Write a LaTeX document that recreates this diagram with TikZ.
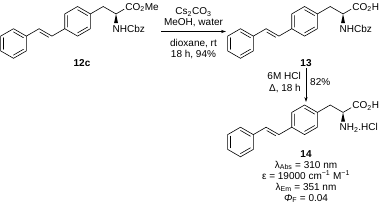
\documentclass[tikz,border=0pt]{standalone}
\usepackage{fontspec}
\setmainfont{Liberation Sans}
\usetikzlibrary{arrows.meta}
\newcommand\chsub[1]{\textsubscript{#1}}
\tikzset{
 bond/.style={line width=0.6pt, line cap=round, line join=round},
 lbl/.style={font=\fontsize{10}{12}\selectfont, inner sep=0pt},
 lblb/.style={font=\fontsize{10}{12}\selectfont\bfseries, inner sep=0pt},
 arr/.style={line width=0.6pt, -{Stealth[length=5pt, width=3.2pt]}},
 stilb/.pic={
  \coordinate (-p1) at (0,-14.8);
  \coordinate (-p2) at (12.817,-7.4);
  \coordinate (-p3) at (12.817,7.4);
  \coordinate (-p4) at (0,14.8);
  \coordinate (-p5) at (-12.817,7.4);
  \coordinate (-p6) at (-12.817,-7.4);
  \draw[bond] (-p1) -- (-p2) -- (-p3) -- (-p4) -- (-p5) -- (-p6) -- cycle;
  \draw[bond] (0,-11.544) -- (9.997,-5.772) (9.997,5.772) -- (0,11.544) (-9.997,5.772) -- (-9.997,-5.772);
  \coordinate (-A) at (25.634,-14.8);
  \coordinate (-B) at (38.451,-7.4);
  \coordinate (-q1) at (64.085,-37);
  \coordinate (-q2) at (76.902,-29.6);
  \coordinate (-q3) at (76.902,-14.8);
  \coordinate (-q4) at (64.085,-7.4);
  \coordinate (-q5) at (51.268,-14.8);
  \coordinate (-q6) at (51.268,-29.6);
  \draw[bond] (-p2) -- (-A) -- (-B) -- (-q5);
  \draw[bond] (26.257,-11.44) -- (35.228,-6.26);
  \draw[bond] (-q1) -- (-q2) -- (-q3) -- (-q4) -- (-q5) -- (-q6) -- cycle;
  \draw[bond] (64.085,-33.744) -- (74.082,-27.972) (74.082,-16.428) -- (64.085,-10.656) (54.088,-16.428) -- (54.088,-27.972);
  \coordinate (-CH) at (89.719,-37);
  \coordinate (-al) at (102.536,-29.6);
  \coordinate (-C) at (115.353,-37);
  \coordinate (-N) at (102.536,-14.8);
  \coordinate (-Ce) at (110.59,-34.25);
  \draw[bond] (-q2) -- (-CH) -- (-al) -- (-Ce);
  \fill (-al) -- (100.6,-20.5) -- (104.5,-20.5) -- cycle;
 }
}
\begin{document}
\begin{tikzpicture}[x=1pt,y=-1pt]
\useasboundingbox (0,0) rectangle (385,207);
% compound 12c
\pic (m1) at (13.5,43.5) {stilb};
\node[lbl, anchor=base west] (t1a) at ([shift={(-3.61,3.58)}]m1-C) {CO\chsub{2}Me};
\node[lbl, anchor=base west] (t1b) at ([shift={(-3.61,3.58)}]m1-N) {NHCbz};
\node[lblb, anchor=base] (L12c) at (82,66) {12c};
% compound 13
\pic (m2) at (240.5,43.5) {stilb};
\node[lbl, anchor=base west] (t2a) at ([shift={(-3.61,3.58)}]m2-C) {CO\chsub{2}H};
\node[lbl, anchor=base west] (t2b) at ([shift={(-3.61,3.58)}]m2-N) {NHCbz};
\node[lblb, anchor=base] (L13) at (306,66) {13};
% compound 14
\pic (m3) at (240.5,142) {stilb};
\node[lbl, anchor=base west] (t3a) at ([shift={(-3.61,3.58)}]m3-C) {CO\chsub{2}H};
\node[lbl, anchor=base west] (t3b) at ([shift={(-3.61,3.58)}]m3-N) {NH\chsub{2}.HCl};
\node[lblb, anchor=base] (L14) at (306,157) {14};
% reaction 1
\coordinate (a1s) at (161,31.5);
\coordinate (a1e) at (226,31.5);
\draw[arr] (a1s) -- (a1e);
\node[lbl, anchor=base] (r1) at (193.5,14.5) {Cs\chsub{2}CO\chsub{3}};
\node[lbl, anchor=base] (r2) at (193.5,25.5) {MeOH, water};
\node[lbl, anchor=base] (r3) at (193.5,46.5) {dioxane, rt};
\node[lbl, anchor=base] (r4) at (193.5,57.5) {18 h, 94\%};
% reaction 2
\coordinate (a2s) at (306,68);
\coordinate (a2e) at (306,102);
\draw[arr] (a2s) -- (a2e);
\node[lbl, anchor=base east] (r5) at (301,79) {6M HCl};
\node[lbl, anchor=base east] (r6) at (301,91) {Δ, 18 h};
\node[lbl, anchor=base west] (r7) at (310,85) {82\%};
% data
\node[lbl, anchor=base] (d1) at (306,168) {λ\chsub{Abs} = 310 nm};
\node[lbl, anchor=base] (d2) at (306,179) {ε = 19000 cm\textsuperscript{−1} M\textsuperscript{−1}};
\node[lbl, anchor=base] (d3) at (306,190) {λ\chsub{Em} = 351 nm};
\node[lbl, anchor=base] (d4) at (306,201) {\textit{Φ}\chsub{F} = 0.04};
\end{tikzpicture}
\end{document}
